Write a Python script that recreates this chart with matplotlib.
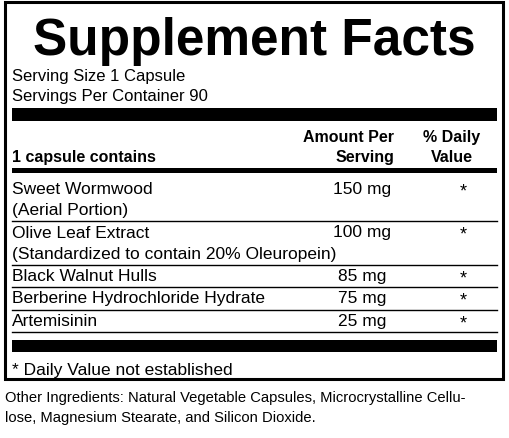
import matplotlib.pyplot as plt
from matplotlib.patches import Rectangle

plt.rcParams['font.family'] = ['Liberation Sans', 'DejaVu Sans']

title = "Supplement Facts"
serving_lines = ["Serving Size 1 Capsule", "Servings Per Container 90"]
ingredient_names = [
    ["Sweet Wormwood", "(Aerial Portion)"],
    ["Olive Leaf Extract", "(Standardized to contain 20% Oleuropein)"],
    ["Black Walnut Hulls"],
    ["Berberine Hydrochloride Hydrate"],
    ["Artemisinin"],
]
amounts = ["150 mg", "100 mg", "85 mg", "75 mg", "25 mg"]
daily_values = ["*", "*", "*", "*", "*"]
footnote = "* Daily Value not established"
other_lines = [
    "Other Ingredients: Natural Vegetable Capsules, Microcrystalline Cellu-",
    "lose, Magnesium Stearate, and Silicon Dioxide.",
]

fig = plt.figure(figsize=(5.1, 4.38), dpi=100)
ax = fig.add_axes([0, 0, 1, 1])
ax.set_xlim(0, 510)
ax.set_ylim(438, 0)
ax.axis("off")

# outer box
ax.add_patch(Rectangle((5, 2), 498, 377, fill=False, lw=2.2, ec="black"))

ax.text(254, 55, title, fontsize=37, fontweight="bold", ha="center", va="baseline")
ax.text(12, 81, serving_lines[0], fontsize=12, va="baseline")
ax.text(12, 101, serving_lines[1], fontsize=12, va="baseline")

def bar(y0, y1):
    ax.add_patch(Rectangle((12, y0), 485, y1 - y0, color="black", lw=0))

def line(y):
    ax.plot([12, 497], [y, y], color="black", lw=1)

bar(108, 121)
ax.text(394, 142, "Amount Per", fontsize=11.5, fontweight="bold", ha="right", va="baseline")
ax.text(394, 162, "Serving", fontsize=11.5, fontweight="bold", ha="right", va="baseline")
ax.text(452, 142, "% Daily", fontsize=11.5, fontweight="bold", ha="center", va="baseline")
ax.text(452, 162, "Value", fontsize=11.5, fontweight="bold", ha="center", va="baseline")
ax.text(12, 162, "1 capsule contains", fontsize=11.5, fontweight="bold", va="baseline")
bar(168, 173)

y = 194
for names, amt, dv in zip(ingredient_names, amounts, daily_values):
    ax.text(12, y, names[0], fontsize=12.5, va="baseline")
    ax.text(362, y, amt, fontsize=12.5, ha="center", va="baseline")
    ax.text(463, y + 2, dv, fontsize=13, ha="center", va="baseline")
    for extra in names[1:]:
        y += 21
        ax.text(12, y, extra, fontsize=12.5, va="baseline")
    line(y + 6)
    y += 22.5

bar(340, 352)
ax.text(12, 375, footnote, fontsize=12.5, va="baseline")

ax.text(5, 402, other_lines[0], fontsize=10.6, va="baseline")
ax.text(5, 422, other_lines[1], fontsize=10.6, va="baseline")

fig.savefig("out.png", dpi=100)
